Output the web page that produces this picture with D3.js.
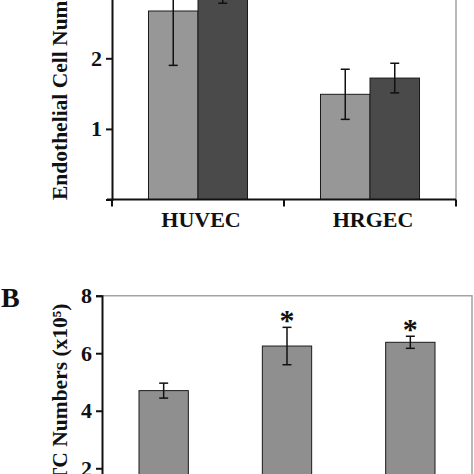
<!DOCTYPE html>
<html lang="en">
<head>
<meta charset="UTF-8" />
<title>Cell numbers</title>
<style>
  body { margin: 0; background: #fff; overflow: hidden; }
  svg { display: block; }
  text { font-family: "Liberation Serif", "Times New Roman", serif; font-weight: bold; fill: #111; }
</style>
</head>
<body>
<svg id="chart" width="474" height="474"></svg>
<script src="https://cdn.jsdelivr.net/npm/d3@7"></script>
<script>
  // panel A data
  const cellTypes = ["HUVEC", "HRGEC"];
  const seriesA = ["light", "dark"];
  const lightVals = [2.67, 1.49];
  const lightErr = [0.77, 0.355];
  const darkVals = [2.95, 1.72];
  const darkErr = [0.17, 0.21];
  const ticksA = [0, 1, 2];

  // panel B data
  const groupsB = ["1", "2", "3"];
  const valsB = [4.70, 6.25, 6.38];
  const errB = [0.26, 0.65, 0.21];
  const starB = [false, true, true];
  const ticksB = [0, 2, 4, 6, 8];

  const colors = { light: "#979797", dark: "#4a4a4a", b: "#8f8f8f" };

  const svg = d3.select("#chart");

  // ---------- panel A ----------
  const gA = svg.append("g");
  const x0 = d3.scaleBand().domain(cellTypes).range([112, 456]);
  const x1 = d3.scaleBand().domain(seriesA).range([0, x0.bandwidth()])
    .paddingInner(0).paddingOuter(0.737);
  const yA = d3.scaleLinear().domain([0, 3]).range([199.5, 199.5 - 3 * 70.6]);

  const rowsA = cellTypes.map((c, i) => ({
    cat: c,
    bars: [
      { s: "light", v: lightVals[i], e: lightErr[i] },
      { s: "dark", v: darkVals[i], e: darkErr[i] }
    ]
  }));

  // plot-area border (right side)
  gA.append("line")
    .attr("x1", x0.range()[1]).attr("x2", x0.range()[1])
    .attr("y1", yA(3)).attr("y2", yA(0))
    .attr("stroke", "#a3a3a3").attr("stroke-width", 1.5);

  const grp = gA.selectAll(".grp").data(rowsA).enter().append("g")
    .attr("transform", d => `translate(${x0(d.cat)},0)`);

  grp.selectAll("rect").data(d => d.bars).enter().append("rect")
    .attr("x", d => x1(d.s))
    .attr("width", x1.bandwidth())
    .attr("y", d => yA(d.v))
    .attr("height", d => yA(0) - yA(d.v))
    .attr("fill", d => colors[d.s])
    .attr("stroke", "#1a1a1a").attr("stroke-width", 1);

  const errA = grp.selectAll(".err").data(d => d.bars).enter().append("g");
  errA.append("line")
    .attr("x1", d => x1(d.s) + x1.bandwidth() / 2)
    .attr("x2", d => x1(d.s) + x1.bandwidth() / 2)
    .attr("y1", d => yA(d.v + d.e)).attr("y2", d => yA(d.v - d.e))
    .attr("stroke", "#111").attr("stroke-width", 1.5);
  [1, -1].forEach(sign => {
    errA.append("line")
      .attr("x1", d => x1(d.s) + x1.bandwidth() / 2 - 4.5)
      .attr("x2", d => x1(d.s) + x1.bandwidth() / 2 + 4.5)
      .attr("y1", d => yA(d.v + sign * d.e)).attr("y2", d => yA(d.v + sign * d.e))
      .attr("stroke", "#111").attr("stroke-width", 1.5);
  });

  // y axis A
  const axA = gA.append("g").attr("transform", "translate(112,0)")
    .call(d3.axisLeft(yA).tickValues(ticksA).tickSize(6).tickPadding(4)
      .tickFormat(d => d === 0 ? "" : d));
  axA.select(".domain").attr("stroke", "#111").attr("stroke-width", 2);
  axA.selectAll(".tick line").attr("stroke", "#111").attr("stroke-width", 2);
  axA.selectAll(".tick text").attr("font-size", 22).attr("fill", "#111")
    .style("font-family", "'Liberation Serif', serif").style("font-weight", "bold");

  // x axis A: baseline with ticks between categories
  const bx = gA.append("g");
  bx.append("line")
    .attr("x1", x0.range()[0] - 5).attr("x2", x0.range()[1])
    .attr("y1", yA(0)).attr("y2", yA(0))
    .attr("stroke", "#111").attr("stroke-width", 2);
  const bounds = cellTypes.map(c => x0(c)).concat([x0.range()[1]]);
  bx.selectAll(".bt").data(bounds).enter().append("line")
    .attr("x1", d => d).attr("x2", d => d)
    .attr("y1", yA(0)).attr("y2", yA(0) + 7)
    .attr("stroke", "#111").attr("stroke-width", 2);
  bx.selectAll(".cl").data(cellTypes).enter().append("text")
    .attr("x", d => x0(d) + x0.bandwidth() / 2 + 3)
    .attr("y", 227)
    .attr("text-anchor", "middle")
    .attr("font-size", 22)
    .text(d => d);

  gA.append("text")
    .attr("transform", "translate(67,200) rotate(-90)")
    .attr("font-size", 21.5)
    .text("Endothelial Cell Numbers");

  // ---------- panel B ----------
  const gB = svg.append("g");
  const xB = d3.scaleBand().domain(groupsB).range([102, 472])
    .paddingInner(0.6).paddingOuter(0.3);
  const yB = d3.scaleLinear().domain([0, 8]).range([525.8, 295.7]);
  const rowsB = groupsB.map((g, i) => ({ g, v: valsB[i], e: errB[i], star: starB[i] }));

  // border top + right
  gB.append("path")
    .attr("d", `M${xB.range()[0]},${yB(8)}H${xB.range()[1]}V${yB(0)}`)
    .attr("fill", "none").attr("stroke", "#a3a3a3").attr("stroke-width", 1.5);

  gB.selectAll("rect").data(rowsB).enter().append("rect")
    .attr("x", d => xB(d.g))
    .attr("width", xB.bandwidth())
    .attr("y", d => yB(d.v))
    .attr("height", d => yB(0) - yB(d.v))
    .attr("fill", colors.b)
    .attr("stroke", "#1a1a1a").attr("stroke-width", 1);

  const errBg = gB.selectAll(".err").data(rowsB).enter().append("g");
  errBg.append("line")
    .attr("x1", d => xB(d.g) + xB.bandwidth() / 2)
    .attr("x2", d => xB(d.g) + xB.bandwidth() / 2)
    .attr("y1", d => yB(d.v + d.e)).attr("y2", d => yB(d.v - d.e))
    .attr("stroke", "#111").attr("stroke-width", 1.5);
  [1, -1].forEach(sign => {
    errBg.append("line")
      .attr("x1", d => xB(d.g) + xB.bandwidth() / 2 - 4.5)
      .attr("x2", d => xB(d.g) + xB.bandwidth() / 2 + 4.5)
      .attr("y1", d => yB(d.v + sign * d.e)).attr("y2", d => yB(d.v + sign * d.e))
      .attr("stroke", "#111").attr("stroke-width", 1.5);
  });

  gB.selectAll(".star").data(rowsB.filter(d => d.star)).enter().append("text")
    .attr("x", d => xB(d.g) + xB.bandwidth() / 2)
    .attr("y", d => yB(d.v + d.e) + 3)
    .attr("text-anchor", "middle")
    .attr("font-size", 30)
    .text("*");

  const axB = gB.append("g").attr("transform", `translate(${xB.range()[0]},0)`)
    .call(d3.axisLeft(yB).tickValues(ticksB).tickSize(6).tickPadding(4));
  axB.select(".domain").attr("stroke", "#111").attr("stroke-width", 2);
  axB.selectAll(".tick line").attr("stroke", "#111").attr("stroke-width", 2);
  axB.selectAll(".tick text").attr("font-size", 22).attr("fill", "#111")
    .style("font-family", "'Liberation Serif', serif").style("font-weight", "bold");

  gB.append("text")
    .attr("transform", "translate(67,482) rotate(-90)")
    .attr("font-size", 21.5)
    .text("TC Numbers (x10\u2075)");

  gB.append("text")
    .attr("x", 1).attr("y", 307)
    .attr("font-size", 28)
    .text("B");
</script>
</body>
</html>
